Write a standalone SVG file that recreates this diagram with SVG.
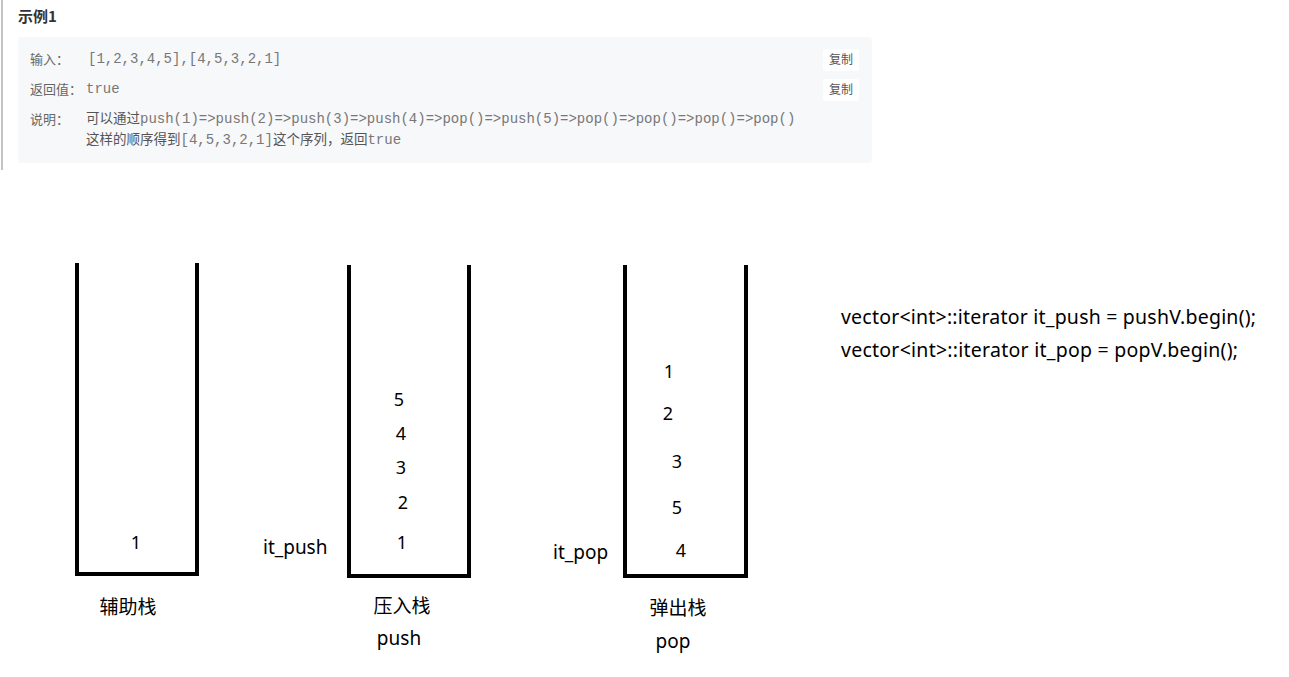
<svg xmlns="http://www.w3.org/2000/svg" width="1289" height="677" viewBox="0 0 1289 677">
<style>
.lbl{font-family:"Noto Sans CJK SC","Liberation Sans",sans-serif;font-size:13px;fill:#666}
.mono{font-family:"Liberation Mono",monospace;font-size:14px;fill:#777}
.cn{font-family:"Noto Sans CJK SC","Liberation Sans",sans-serif;font-size:13.5px;fill:#555}
.btn{fill:#fff}
.btxt{font-family:"Noto Sans CJK SC",sans-serif;font-size:12px;fill:#555}
.stack{fill:none;stroke:#000;stroke-width:4}
.d{font-family:"Noto Sans","Noto Sans CJK SC",sans-serif;font-size:18px;fill:#000}
.it{font-family:"Noto Sans","Noto Sans CJK SC",sans-serif;font-size:19px;fill:#000}
.code{font-family:"Noto Sans","Noto Sans CJK SC",sans-serif;font-size:19.5px;fill:#000}
.t{font-family:"Noto Sans CJK SC","Noto Sans",sans-serif;font-size:19px;fill:#000}
</style>
<rect width="1289" height="677" fill="#fff"/>
<g id="header">
<line x1="2" y1="0" x2="2" y2="170" stroke="#888" stroke-width="1"/>
<text x="18" y="22" font-family="Noto Sans CJK SC,sans-serif" font-size="15" font-weight="bold" fill="#333">示例1</text>
<rect x="18" y="37" width="854" height="126" rx="4" fill="#f7f8fa"/>
<text class="lbl" x="30" y="64">输入：</text>
<text class="mono" x="88" y="63">[1,2,3,4,5],[4,5,3,2,1]</text>
<text class="lbl" x="30" y="94">返回值：</text>
<text class="mono" x="86" y="93">true</text>
<text class="lbl" x="30" y="124">说明：</text>
<text x="86" y="123"><tspan class="cn">可以通过</tspan><tspan class="mono">push(1)=&gt;push(2)=&gt;push(3)=&gt;push(4)=&gt;pop()=&gt;push(5)=&gt;pop()=&gt;pop()=&gt;pop()=&gt;pop()</tspan></text>
<text x="86" y="144"><tspan class="cn">这样的顺序得到</tspan><tspan class="mono">[4,5,3,2,1]</tspan><tspan class="cn">这个序列，返回</tspan><tspan class="mono">true</tspan></text>
<rect class="btn" x="823" y="49" width="36" height="22" rx="2"/>
<text class="btxt" x="841" y="64" text-anchor="middle">复制</text>
<rect class="btn" x="823" y="79" width="36" height="22" rx="2"/>
<text class="btxt" x="841" y="94" text-anchor="middle">复制</text>
</g>
<g id="stack-aux">
<polyline class="stack" points="77,263 77,574 197,574 197,263"/>
<text class="d" x="136" y="549" text-anchor="middle">1</text>
<text class="t" x="128" y="614" text-anchor="middle">辅助栈</text>
</g>
<g id="stack-push">
<polyline class="stack" points="349,265 349,576 469,576 469,265"/>
<text class="d" x="399" y="406" text-anchor="middle">5</text>
<text class="d" x="401" y="440" text-anchor="middle">4</text>
<text class="d" x="401" y="474" text-anchor="middle">3</text>
<text class="d" x="403" y="509" text-anchor="middle">2</text>
<text class="d" x="402" y="549" text-anchor="middle">1</text>
<text class="it" x="263" y="554">it_push</text>
<text class="t" x="402" y="613" text-anchor="middle">压入栈</text>
<text class="it" x="399" y="645" text-anchor="middle">push</text>
</g>
<g id="stack-pop">
<polyline class="stack" points="625,265 625,576 746,576 746,265"/>
<text class="d" x="669" y="378" text-anchor="middle">1</text>
<text class="d" x="668" y="420" text-anchor="middle">2</text>
<text class="d" x="677" y="468" text-anchor="middle">3</text>
<text class="d" x="677" y="514" text-anchor="middle">5</text>
<text class="d" x="681" y="557" text-anchor="middle">4</text>
<text class="it" x="553" y="559">it_pop</text>
<text class="t" x="678" y="615" text-anchor="middle">弹出栈</text>
<text class="it" x="673" y="648" text-anchor="middle">pop</text>
</g>
<g id="code">
<text class="code" x="841" y="324" textLength="415" lengthAdjust="spacing">vector&lt;int&gt;::iterator it_push = pushV.begin();</text>
<text class="code" x="841" y="357" textLength="397" lengthAdjust="spacing">vector&lt;int&gt;::iterator it_pop = popV.begin();</text>
</g>
<g id="connectors"/>
</svg>
